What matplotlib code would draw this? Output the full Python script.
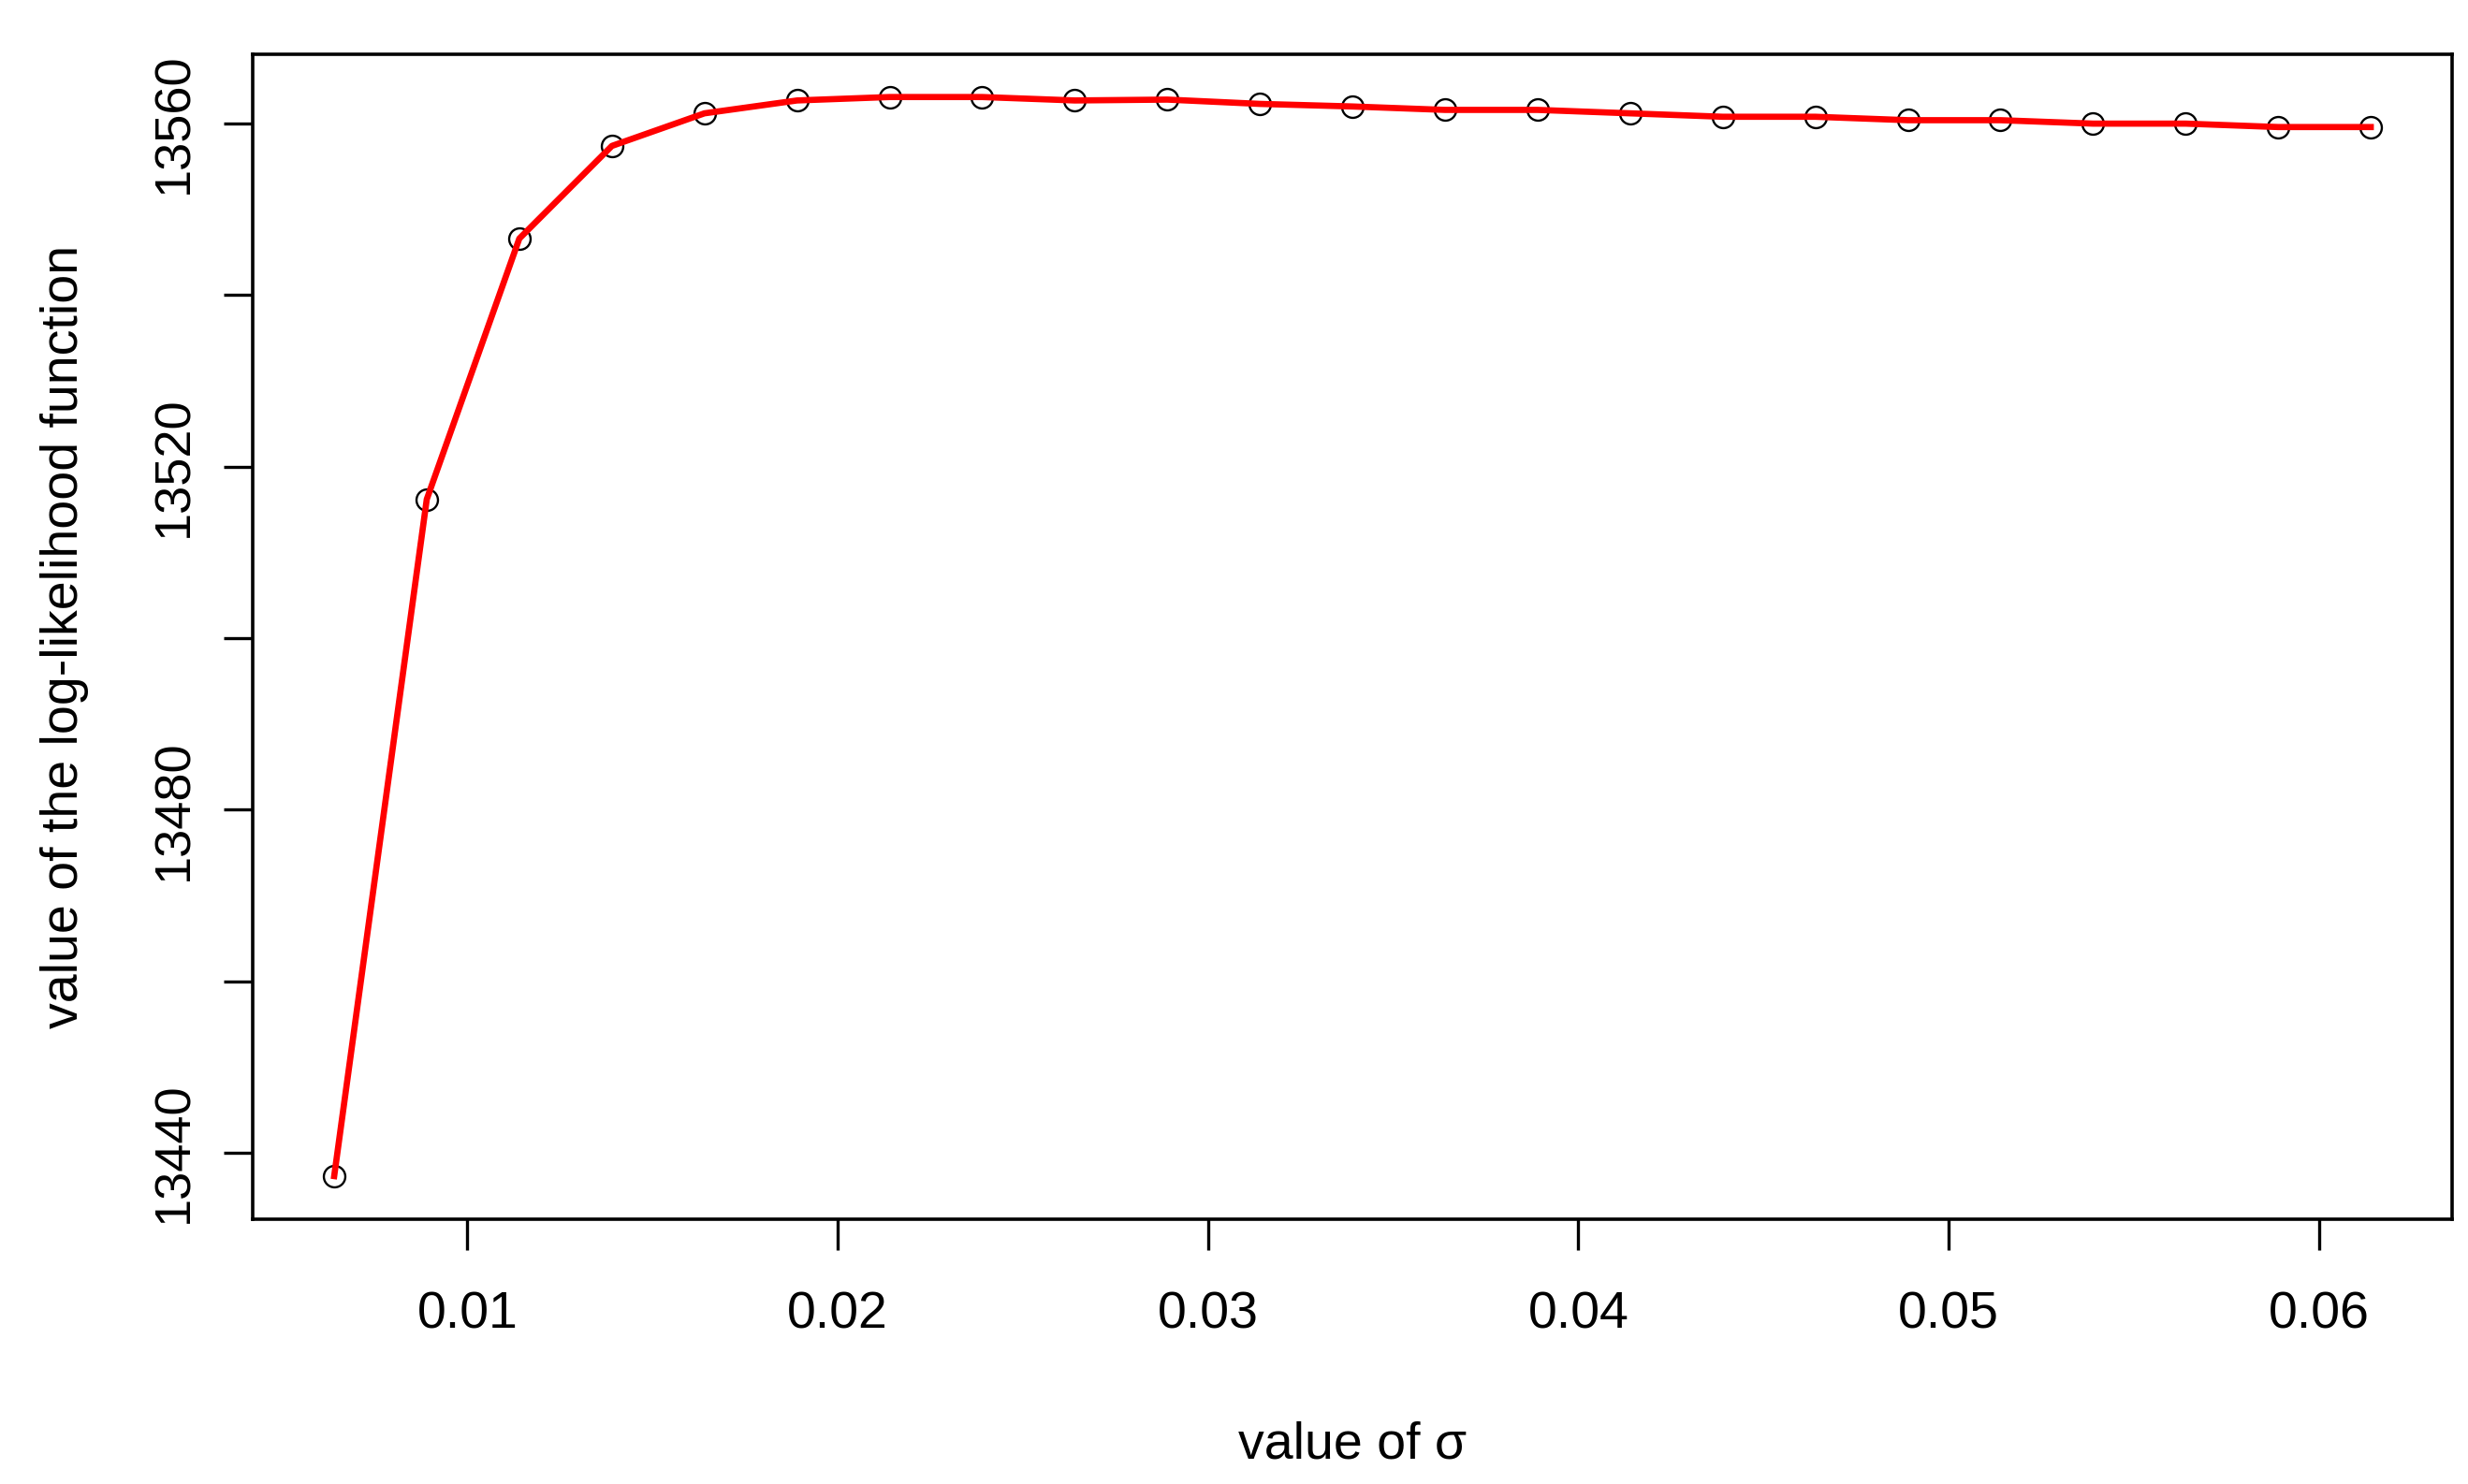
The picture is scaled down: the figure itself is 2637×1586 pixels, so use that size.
import matplotlib
matplotlib.use("Agg")
import matplotlib.pyplot as plt

# sigma values and log-likelihood
sigma = [0.0064, 0.0089, 0.0114, 0.0139, 0.0164, 0.0189, 0.0214, 0.0239,
         0.0264, 0.0289, 0.0314, 0.0339, 0.0364, 0.0389, 0.0414, 0.0439,
         0.0464, 0.0489, 0.0514, 0.0539, 0.0564, 0.0589, 0.0614]
loglik = [13437.3, 13516.2, 13546.6, 13557.4, 13561.2, 13562.7, 13563.1, 13563.1,
          13562.7, 13562.8, 13562.3, 13562.0, 13561.6, 13561.6, 13561.2, 13560.8,
          13560.8, 13560.4, 13560.4, 13560.0, 13560.0, 13559.6, 13559.6]

xticks = [0.01, 0.02, 0.03, 0.04, 0.05, 0.06]
xlabels = ['0.01', '0.02', '0.03', '0.04', '0.05', '0.06']
yticks = [13440, 13460, 13480, 13500, 13520, 13540, 13560]
ylabels = ['13440', '', '13480', '', '13520', '', '13560']

font = ['Liberation Sans', 'DejaVu Sans']

fig = plt.figure(figsize=(26.37, 15.86), dpi=100)
ax = fig.add_axes([0.1024, 0.1784, 0.8912, 0.7853])

ax.plot(sigma, loglik, linestyle='none', marker='o', markersize=16.5,
        markerfacecolor='none', markeredgecolor='black', markeredgewidth=1.7, zorder=2)
ax.plot(sigma, loglik, color='#FF0000', linewidth=4.8, zorder=3)

# R style 4% padding
xr = max(sigma) - min(sigma)
yr = max(loglik) - min(loglik)
ax.set_xlim(min(sigma) - 0.04 * xr, max(sigma) + 0.04 * xr)
ax.set_ylim(min(loglik) - 0.04 * yr, max(loglik) + 0.04 * yr)

for s in ax.spines.values():
    s.set_linewidth(2.6)

ax.set_xticks(xticks)
ax.set_xticklabels(xlabels, family=font, fontsize=40)
ax.set_yticks(yticks)
ax.set_yticklabels(ylabels, family=font, fontsize=39, rotation=90, va='center')
ax.tick_params(axis='x', length=24, width=2.4, pad=31)
ax.tick_params(axis='y', length=22, width=2.4, pad=20)

ax.set_xlabel('value of σ', family=font, fontsize=40)
ax.set_ylabel('value of the log-likelihood function', family=font, fontsize=40)
ax.xaxis.set_label_coords(0.5, -0.173)
ax.yaxis.set_label_coords(-0.0745, 0.5)

fig.savefig('out.png', dpi=100, facecolor='white')
